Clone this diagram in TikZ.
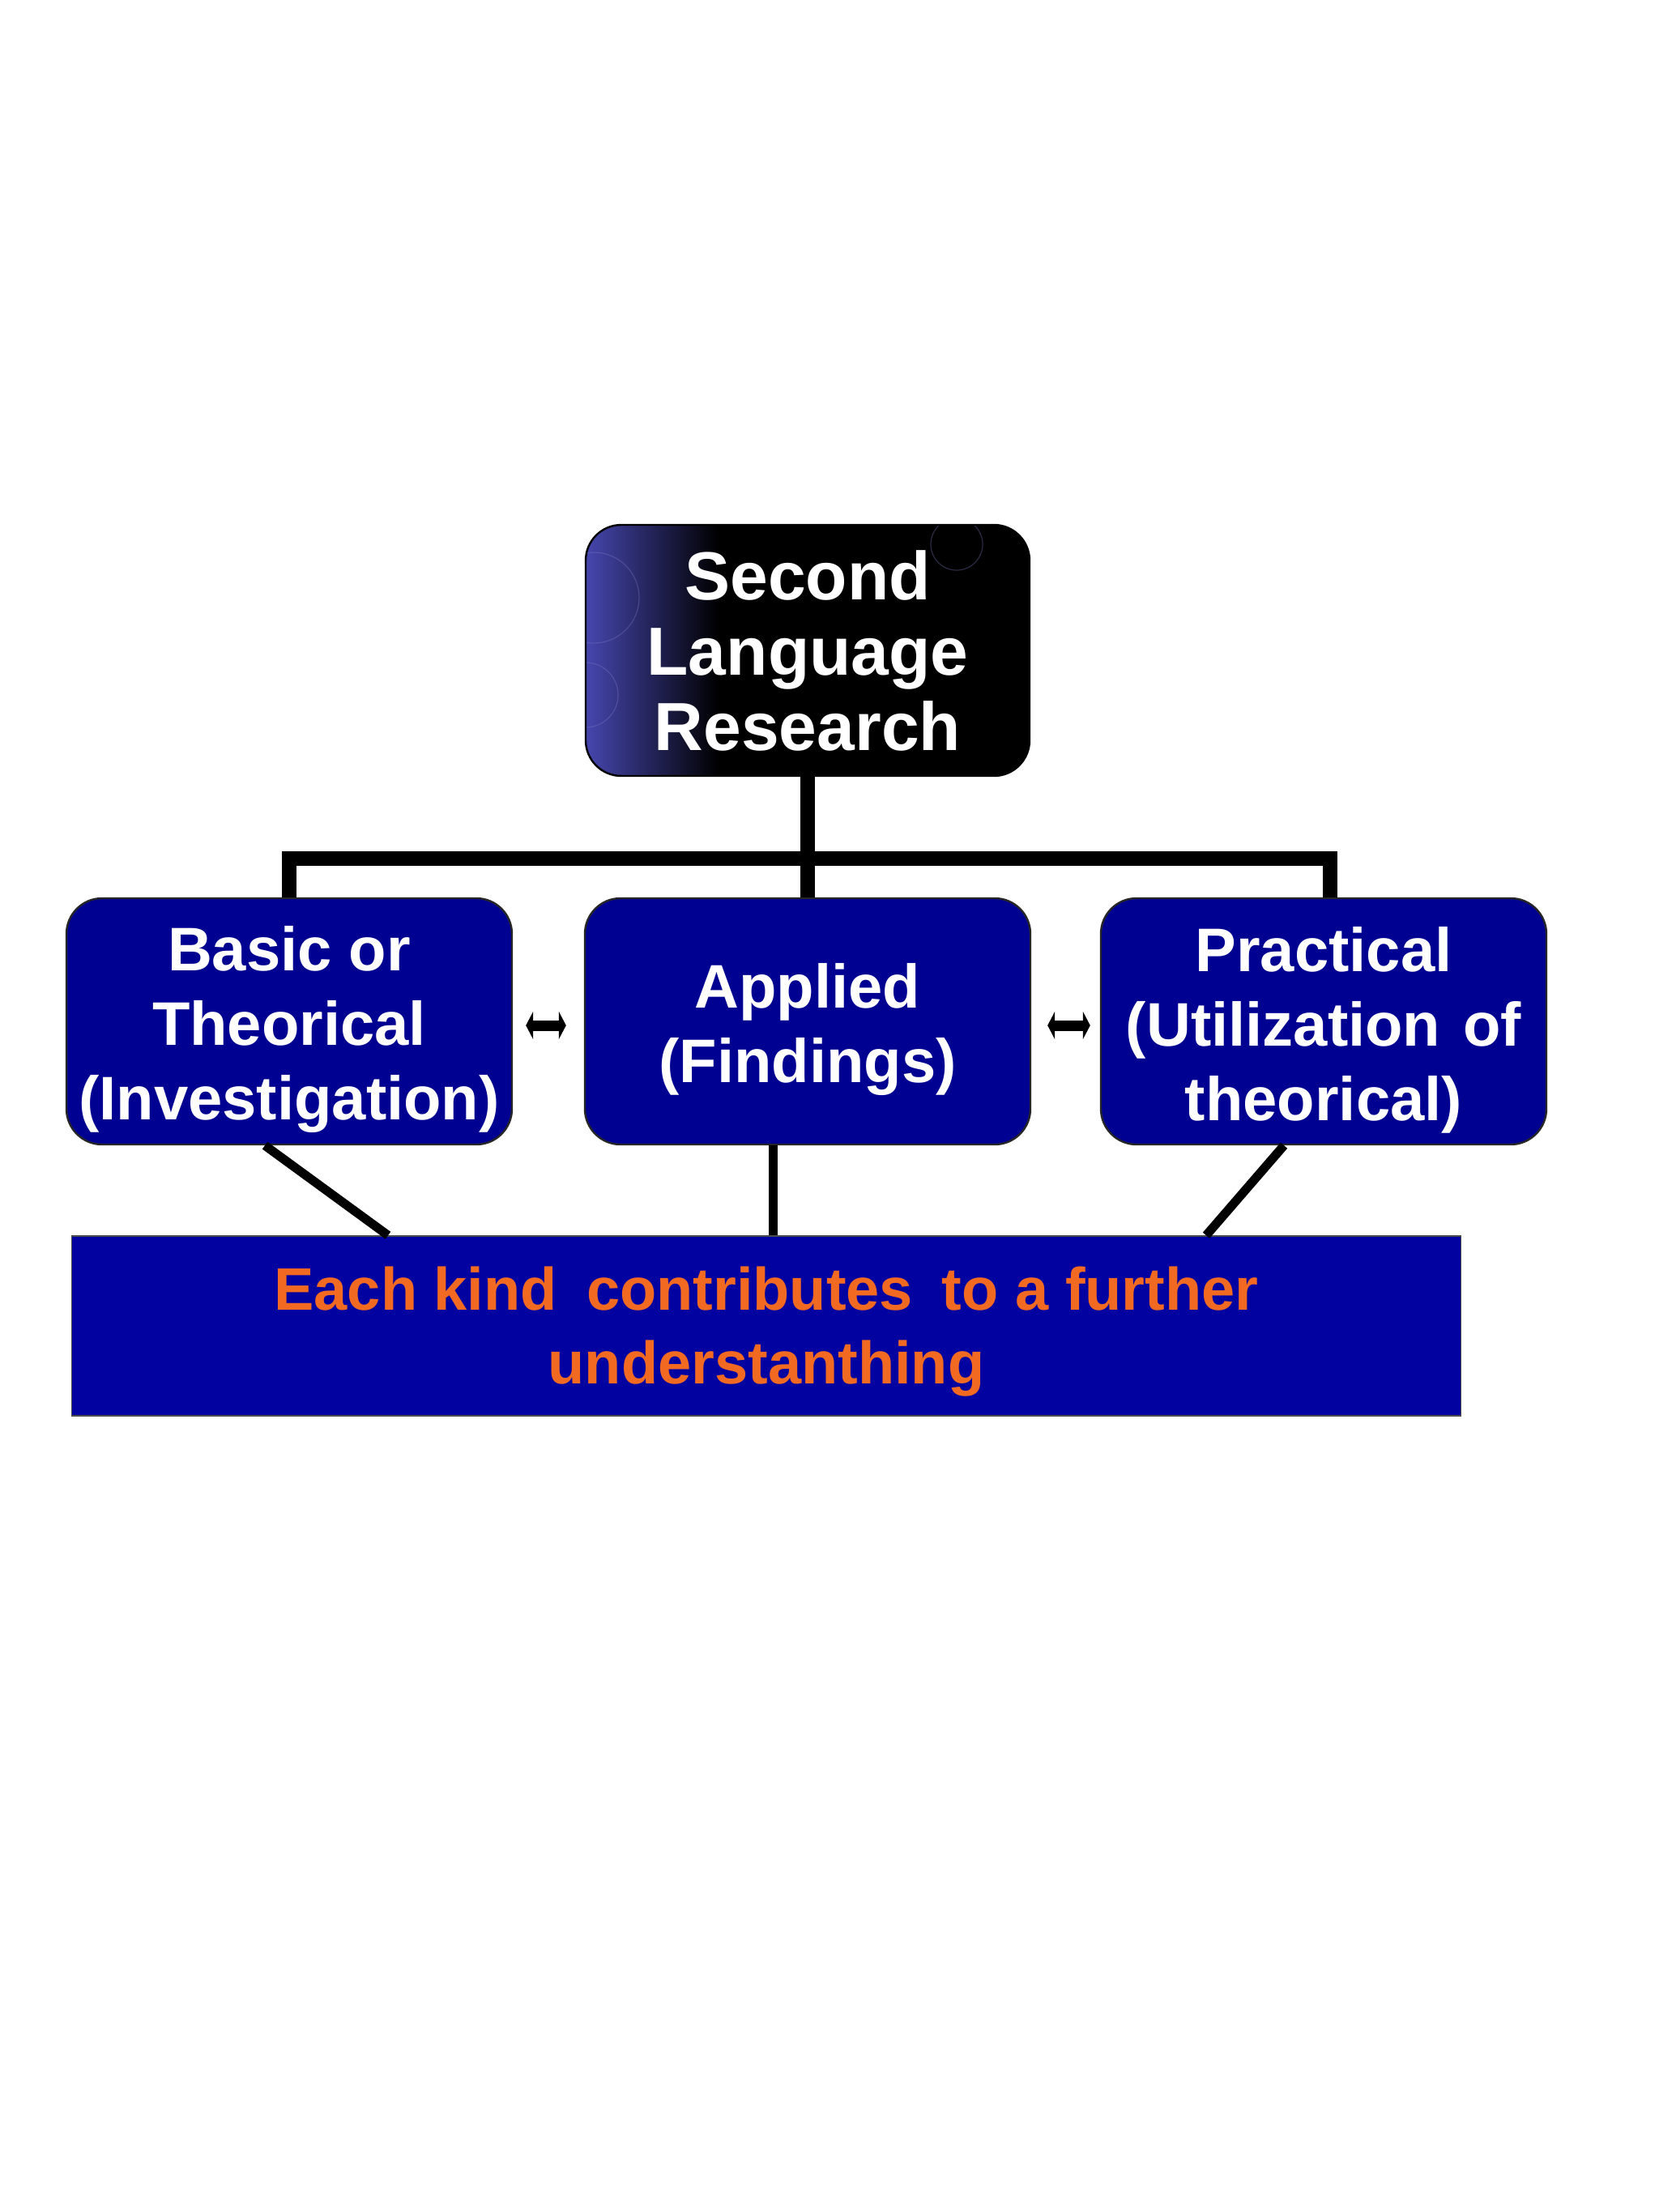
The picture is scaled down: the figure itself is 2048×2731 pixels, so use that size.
\documentclass[tikz,border=0pt]{standalone}
\usepackage{fontspec}
\setmainfont{Liberation Sans}
\usetikzlibrary{arrows.meta}
\definecolor{boxblue}{RGB}{0,0,145}
\definecolor{bottomblue}{RGB}{2,2,160}
\definecolor{txtorange}{RGB}{242,106,34}
\definecolor{nebula}{RGB}{70,70,175}
\pgfdeclarehorizontalshading{nebfade}{100bp}{color(0bp)=(nebula); color(25bp)=(nebula); color(40bp)=(black); color(100bp)=(black)}
\newcommand{\lowerby}[1]{\rule{0pt}{#1}}
\begin{document}
\begin{tikzpicture}[x=0.5pt,y=-0.5pt,
  catbox/.style={draw=black!85, line width=1.2pt, fill=boxblue, rounded corners=22pt,
    minimum width=275pt, minimum height=152pt, text=white, align=center, inner sep=0pt,
    font=\bfseries\fontsize{38}{46}\selectfont},
  topbox/.style={draw=black, line width=1.2pt, shading=nebfade, rounded corners=22pt,
    minimum width=274pt, minimum height=155pt, text=white, align=center, inner sep=0pt,
    font=\bfseries\fontsize{42}{46.5}\selectfont},
  bottombox/.style={draw=black!70, line width=0.8pt, fill=bottomblue,
    minimum width=857.5pt, minimum height=111pt, text=txtorange, align=center, inner sep=0pt,
    font=\bfseries\fontsize{37}{45.5}\selectfont},
  bus/.style={line width=9pt, black},
  link/.style={line width=5.5pt, black},
  dblarrow/.style={line width=6.5pt, black, {Triangle[length=4.5pt,width=17pt]}-{Triangle[length=4.5pt,width=17pt]}}
]
\fill[white] (0,0) rectangle (2048,2731);
\useasboundingbox (0,0) rectangle (2048,2731);

% top box
\node[topbox, path picture={
    \draw[nebula!70!white, line width=0.6pt, opacity=0.35]
      ([xshift=5pt,yshift=-45pt]path picture bounding box.north west) circle (28pt)
      ([xshift=0pt,yshift=-105pt]path picture bounding box.north west) circle (20pt)
      ([xshift=-45pt,yshift=-12pt]path picture bounding box.north east) circle (16pt);
  }] (top) at (997,803) {Second\\Language\\Research};

% middle row
\node[catbox] (L) at (357,1261) {\lowerby{38pt}Basic or\\Theorical\\(Investigation)};
\node[catbox] (M) at (997,1261) {\lowerby{38pt}Applied\\(Findings)};
\node[catbox] (R) at (1634,1261) {\lowerby{38pt}Practical\\(Utilization\hspace{14pt}of\\theorical)};

% bottom box
\node[bottombox] (B) at (946,1637) {\lowerby{34pt}Each kind\hspace{18pt}contributes\hspace{18pt}to a further\\understanthing};

% tree connectors
\draw[bus] (L.north) -- ++(0,-48) -| ([xshift=4pt]R.north);
\draw[bus] (top.south) -- (M.north);

% double arrows
\draw[dblarrow] ([yshift=-2.5pt,xshift=8pt]L.east) -- ([yshift=-2.5pt,xshift=-11pt]M.west);
\draw[dblarrow] ([yshift=-2.5pt,xshift=10pt]M.east) -- ([yshift=-2.5pt,xshift=-6pt]R.west);

% links to bottom box
\draw[link] ([xshift=-15pt]L.south) -- ([xshift=-233.5pt]B.north);
\draw[link] ([xshift=-21.5pt]M.south) -- ([xshift=-21.5pt]M.south |- B.north);
\draw[link] ([xshift=-24.5pt]R.south) -- ([xshift=271.5pt]B.north);
\end{tikzpicture}
\end{document}
